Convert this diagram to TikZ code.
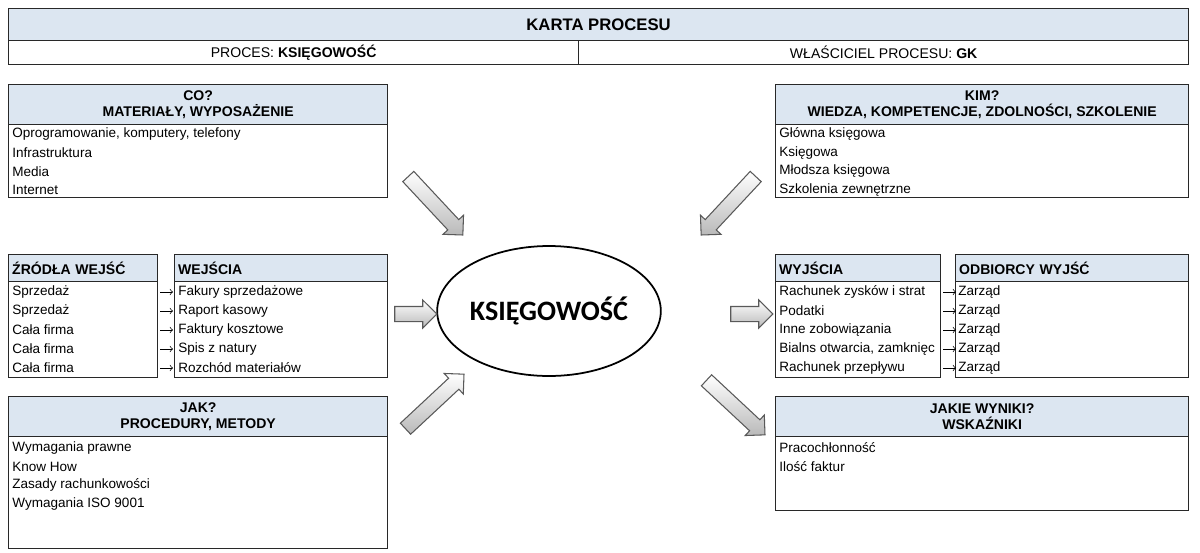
\documentclass[tikz,border=0pt]{standalone}
\usepackage{fontspec}
\setmainfont{Liberation Sans}
\newfontfamily\calibri{Carlito}
\usetikzlibrary{shapes.geometric,shapes.arrows}
\definecolor{headblue}{RGB}{220,230,241}
\definecolor{frame}{RGB}{40,40,40}
\tikzset{
  box/.style={draw=frame, line width=0.8pt, inner sep=0pt, anchor=north west},
  head/.style={box, fill=headblue, font=\fontsize{8}{9.6}\selectfont\bfseries, align=center},
  lhead/.style={box, fill=headblue, font=\fontsize{8}{9.6}\selectfont\bfseries, text width=#1, minimum width=#1, align=left},
  item/.style={anchor=west, inner sep=0pt, font=\fontsize{7.7}{9}\selectfont},
  big/.style={single arrow, draw=gray!70!black, line width=0.6pt, top color=white, bottom color=gray!55,
    inner xsep=0pt, inner ysep=0.14cm, single arrow head extend=0.13cm, single arrow head indent=0pt},
}
\begin{document}
\begin{tikzpicture}[x=0.02cm, y=-0.02cm]
    \useasboundingbox (0,0) rectangle (1200,552);

    % Title
    \node[head, minimum width=23.6cm, minimum height=0.64cm, font=\fontsize{9.5}{11}\selectfont\bfseries] (title) at (8,8) {KARTA PROCESU};
    \node[box, minimum width=11.4cm, minimum height=0.48cm, font=\fontsize{8}{9.6}\selectfont] (proc) at (8,40) {PROCES: \textbf{KSIĘGOWOŚĆ}};
    \node[box, minimum width=12.2cm, minimum height=0.48cm, font=\fontsize{8}{9.6}\selectfont] (owner) at (578,40) {WŁAŚCICIEL PROCESU: \textbf{GK}};

    % CO?
    \node[head, minimum width=7.58cm, minimum height=0.8cm] (coHead) at (8,84) {CO?\\MATERIAŁY, WYPOSAŻENIE};
    \node[box, minimum width=7.58cm, minimum height=1.46cm] (coBody) at (8,124) {};
    \foreach \t [count=\i] in {{Oprogramowanie, komputery, telefony},Infrastruktura,Media,Internet}
        \node[item] (co\i) at (12,{134+18.6*(\i-1)}) {\t};

    % KIM?
    \node[head, minimum width=8.26cm, minimum height=0.8cm] (kimHead) at (775,84) {KIM?\\WIEDZA, KOMPETENCJE, ZDOLNOŚCI, SZKOLENIE};
    \node[box, minimum width=8.26cm, minimum height=1.46cm] (kimBody) at (775,124) {};
    \foreach \t [count=\i] in {Główna księgowa,Księgowa,Młodsza księgowa,Szkolenia zewnętrzne}
        \node[item] (kim\i) at (779,{134+18.6*(\i-1)}) {\t};

    % Inputs
    \node[lhead=2.98cm, minimum height=0.54cm] (srcHead) at (8,254) {\hspace{2pt}ŹRÓDŁA WEJŚĆ};
    \node[box, minimum width=2.98cm, minimum height=1.92cm] (srcBody) at (8,281) {};
    \node[lhead=4.26cm, minimum height=0.54cm] (inHead) at (174,254) {\hspace{2pt}WEJŚCIA};
    \node[box, minimum width=4.26cm, minimum height=1.92cm] (inBody) at (174,281) {};
    \foreach \s/\t [count=\i] in {Sprzedaż/Fakury sprzedażowe,Sprzedaż/Raport kasowy,Cała firma/Faktury kosztowe,Cała firma/Spis z natury,Cała firma/Rozchód materiałów}{
        \node[item] (src\i) at (12,{292+19*(\i-1)}) {\s};
        \node[item] (in\i) at (178,{292+19*(\i-1)}) {\t};
        \coordinate (sa\i) at (160,{292+19*(\i-1)});
        \coordinate (sb\i) at (173,{292+19*(\i-1)});
        \draw[->, line width=0.4pt] (sa\i) -- (sb\i);
    }

    % Outputs
    \node[lhead=3.3cm, minimum height=0.54cm] (outHead) at (775,254) {\hspace{2pt}WYJŚCIA};
    \node[box, minimum width=3.3cm, minimum height=1.92cm] (outBody) at (775,281) {};
    \node[lhead=4.66cm, minimum height=0.54cm] (recHead) at (955,254) {\hspace{2pt}ODBIORCY WYJŚĆ};
    \node[box, minimum width=4.66cm, minimum height=1.92cm] (recBody) at (955,281) {};
    \foreach \t [count=\i] in {Rachunek zysków i strat,Podatki,Inne zobowiązania,Bialns otwarcia\char44\ zamknięc,Rachunek przepływu}{
        \node[item] (out\i) at (779,{292+19*(\i-1)}) {\t};
        \node[item] (rec\i) at (958,{292+19*(\i-1)}) {Zarząd};
        \coordinate (oa\i) at (943,{292+19*(\i-1)});
        \coordinate (ob\i) at (956,{292+19*(\i-1)});
        \draw[->, line width=0.4pt] (oa\i) -- (ob\i);
    }

    % JAK?
    \node[head, minimum width=7.58cm, minimum height=0.8cm] (jakHead) at (8,396) {JAK?\\PROCEDURY, METODY};
    \node[box, minimum width=7.58cm, minimum height=2.24cm] (jakBody) at (8,436) {};
    \foreach \t [count=\i] in {Wymagania prawne,Know How,Zasady rachunkowości,Wymagania ISO 9001}
        \node[item] (jak\i) at (12,{448+18.5*(\i-1)}) {\t};

    % JAKIE WYNIKI?
    \node[head, minimum width=8.26cm, minimum height=0.8cm] (resHead) at (775,396) {JAKIE WYNIKI?\\WSKAŹNIKI};
    \node[box, minimum width=8.26cm, minimum height=1.48cm] (resBody) at (775,436) {};
    \foreach \t [count=\i] in {Pracochłonność,Ilość faktur}
        \node[item] (res\i) at (779,{448+18.5*(\i-1)}) {\t};

    % Process
    \node[ellipse, draw, line width=1pt, inner sep=0pt, minimum width=4.3cm, minimum height=2.6cm,
        font=\calibri\fontsize{16}{20}\selectfont\bfseries] (proces) at (549,311) {KSIĘGOWOŚĆ};

    % Block arrows
    \node[big, minimum height=1.6cm, rotate=-47] (arrCo) at (433,203) {};
    \node[big, minimum height=1.6cm, rotate=-133] (arrKim) at (731,203) {};
    \node[big, minimum height=0.84cm] (arrIn) at (412,314) {};
    \node[big, minimum height=0.84cm] (arrOut) at (748,314) {};
    \node[big, minimum height=1.6cm, rotate=43] (arrJak) at (432,404) {};
    \node[big, minimum height=1.6cm, rotate=-43] (arrRes) at (733,405) {};
\end{tikzpicture}
\end{document}
